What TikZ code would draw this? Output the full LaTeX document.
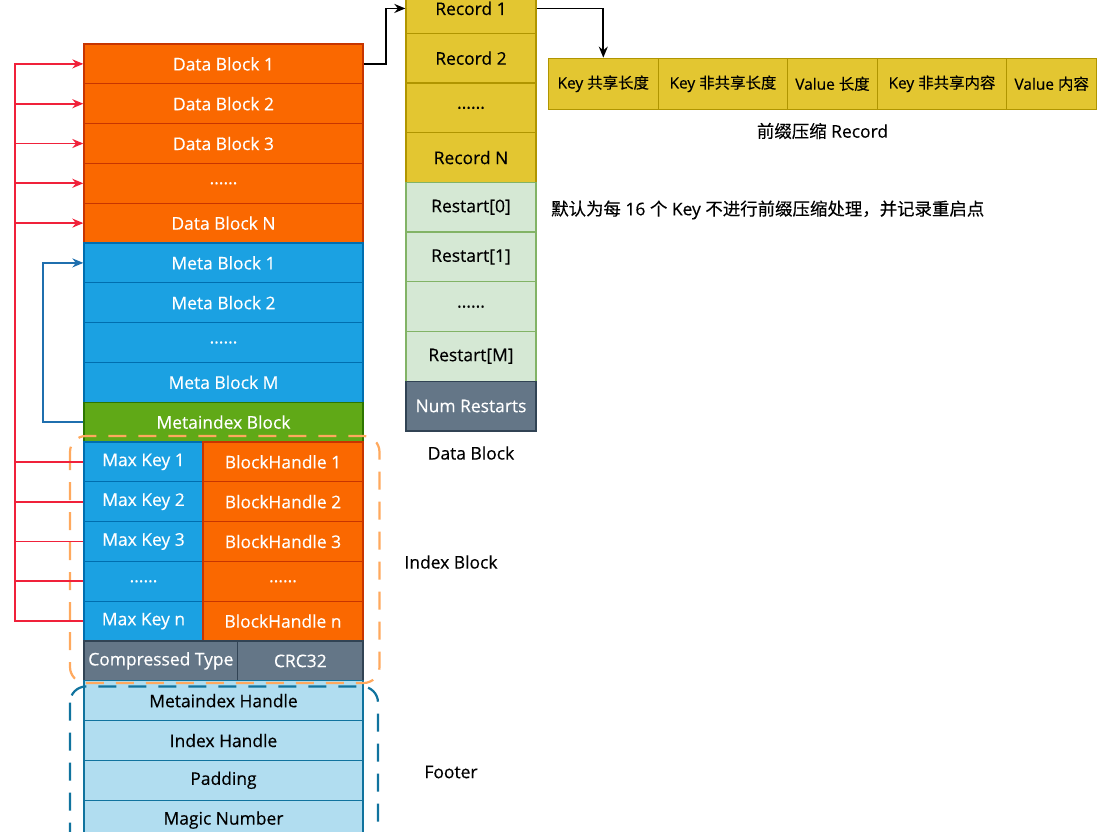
\documentclass[tikz,border=0pt]{standalone}
\usepackage{fontspec}
\setmainfont{Open Sans}[FakeBold=0.35]
\newfontfamily\cjk{Noto Sans CJK SC}[FakeBold=0.25]
\usetikzlibrary{arrows.meta}
\definecolor{ofill}{HTML}{FA6800}
\definecolor{oline}{HTML}{C73500}
\definecolor{bfill}{HTML}{1BA1E2}
\definecolor{bline}{HTML}{006EAF}
\definecolor{gfill}{HTML}{60A917}
\definecolor{gline}{HTML}{2D7600}
\definecolor{sfill}{HTML}{647687}
\definecolor{sline}{HTML}{314354}
\definecolor{yfill}{HTML}{E3C631}
\definecolor{yline}{HTML}{B09500}
\definecolor{lgfill}{HTML}{D5E8D4}
\definecolor{lgline}{HTML}{82B366}
\definecolor{lbfill}{HTML}{B1DDF0}
\definecolor{lbline}{HTML}{10739E}
\definecolor{dashorange}{HTML}{FFA95E}
\definecolor{arrred}{HTML}{F0213A}
\definecolor{arrblue}{HTML}{1F6FAE}
\tikzset{
  cell/.style={draw, line width=1.3bp, inner sep=0pt, anchor=center, text=white},
  ocell/.style={cell, fill=ofill, draw=oline},
  bcell/.style={cell, fill=bfill, draw=bline},
  gcell/.style={cell, fill=gfill, draw=gline},
  scell/.style={cell, fill=sfill, draw=sline},
  ycell/.style={cell, fill=yfill, draw=yline, text=black},
  lgcell/.style={cell, fill=lgfill, draw=lgline, text=black},
  lbcell/.style={cell, fill=lbfill, draw=lbline, text=black},
  mainrow/.style={minimum width=279bp, minimum height=39.8bp},
  keycol/.style={minimum width=119bp, minimum height=39.8bp},
  handlecol/.style={minimum width=160bp, minimum height=39.8bp},
  dbrow/.style={minimum width=130bp, minimum height=49.7bp},
  rechigh/.style={minimum height=51bp, font=\fontsize{15.5}{19}\selectfont},
  lbl/.style={text=black, inner sep=0pt},
  redarrow/.style={draw=arrred, line width=1.7bp, -{Stealth[length=11bp,width=9bp]}},
  bluearrow/.style={draw=arrblue, line width=1.7bp, -{Stealth[length=11bp,width=9bp]}},
  blackarrow/.style={draw=black, line width=1.7bp, -{Stealth[length=11bp,width=9bp]}},
  groupbox/.style={line width=2.2bp, rounded corners=16bp, dash pattern=on 18bp off 12bp}
}
\begin{document}
\begin{tikzpicture}[x=1bp, y=-1bp, font=\fontsize{17.5}{21}\selectfont]
\useasboundingbox (0,0) rectangle (1101,832);
\clip (0,0) rectangle (1101,832);
\fill[white] (0,0) rectangle (1101,832);

% main column
\node[ocell, mainrow] (db1) at (223.5,63.9) {Data Block 1};
\node[ocell, mainrow] (db2) at (223.5,103.7) {Data Block 2};
\node[ocell, mainrow] (db3) at (223.5,143.5) {Data Block 3};
\node[ocell, mainrow] (db4) at (223.5,183.3) {......};
\node[ocell, mainrow] (db5) at (223.5,223.1) {Data Block N};
\node[bcell, mainrow] (mb1) at (223.5,262.9) {Meta Block 1};
\node[bcell, mainrow] (mb2) at (223.5,302.7) {Meta Block 2};
\node[bcell, mainrow] (mb3) at (223.5,342.5) {......};
\node[bcell, mainrow] (mb4) at (223.5,382.3) {Meta Block M};
\node[gcell, mainrow] (mib) at (223.5,422.1) {Metaindex Block};

\node[bcell, keycol] (mk1) at (143.5,461.9) {Max Key 1};
\node[bcell, keycol] (mk2) at (143.5,501.7) {Max Key 2};
\node[bcell, keycol] (mk3) at (143.5,541.5) {Max Key 3};
\node[bcell, keycol] (mk4) at (143.5,581.3) {......};
\node[bcell, keycol] (mk5) at (143.5,621.1) {Max Key n};
\node[ocell, handlecol] (bh1) at (283,461.9) {BlockHandle 1};
\node[ocell, handlecol] (bh2) at (283,501.7) {BlockHandle 2};
\node[ocell, handlecol] (bh3) at (283,541.5) {BlockHandle 3};
\node[ocell, handlecol] (bh4) at (283,581.3) {......};
\node[ocell, handlecol] (bh5) at (283,621.1) {BlockHandle n};
\node[scell, minimum width=153.7bp, minimum height=39.8bp] (ctype) at (160.85,660.9) {Compressed Type};
\node[scell, minimum width=125.3bp, minimum height=39.8bp] (crc) at (300.35,660.9) {CRC32};

\node[lbcell, mainrow] (mih) at (223.5,700.7) {Metaindex Handle};
\node[lbcell, mainrow] (ih) at (223.5,740.5) {Index Handle};
\node[lbcell, mainrow] (pad) at (223.5,780.3) {Padding};
\node[lbcell, mainrow] (magic) at (223.5,820.1) {Magic Number};

% group boxes
\draw[groupbox, draw=dashorange] (70,436) rectangle (379.5,683);
\draw[groupbox, draw=lbline] (70,686.5) rectangle (378,870);

% data block detail column
\node[ycell, dbrow] (rec1) at (471,8.45) {Record 1};
\node[ycell, dbrow] (rec2) at (471,58.15) {Record 2};
\node[ycell, dbrow] (rec3) at (471,107.85) {......};
\node[ycell, dbrow] (rec4) at (471,157.55) {Record N};
\node[lgcell, dbrow] (rs0) at (471,207.25) {Restart[0]};
\node[lgcell, dbrow] (rs1) at (471,256.95) {Restart[1]};
\node[lgcell, dbrow] (rs2) at (471,306.65) {......};
\node[lgcell, dbrow] (rs3) at (471,356.35) {Restart[M]};
\node[scell, dbrow] (nrs) at (471,406.05) {Num Restarts};

% record row
\node[ycell, rechigh, minimum width=110bp] (k1) at (603.3,83.8) {Key \cjk 共享长度};
\node[ycell, rechigh, minimum width=129.4bp] (k2) at (723,83.8) {Key \cjk 非共享长度};
\node[ycell, rechigh, minimum width=89.6bp] (k3) at (832.5,83.8) {Value \cjk 长度};
\node[ycell, rechigh, minimum width=129.4bp] (k4) at (942,83.8) {Key \cjk 非共享内容};
\node[ycell, rechigh, minimum width=90bp] (k5) at (1051.7,83.8) {Value \cjk 内容};

% labels
\node[lbl] (lbldb) at (471,453) {Data Block};
\node[lbl] (lblidx) at (451,562) {Index Block};
\node[lbl] (lblft) at (451,772) {Footer};
\node[lbl] (lblrec) at (822.5,131) {{\cjk 前缀压缩} Record};
\node[lbl, anchor=west] (lblrs) at (551,210) {{\cjk 默认为每} 16 {\cjk 个} Key {\cjk 不进行前缀压缩处理，并记录重启点}};

% connectors
\draw[redarrow] (mk1.west) -- ([xshift=-68bp]mk1.west) |- (db1.west);
\draw[redarrow] (mk2.west) -- ([xshift=-68bp]mk2.west) |- (db2.west);
\draw[redarrow] (mk3.west) -- ([xshift=-68bp]mk3.west) |- (db3.west);
\draw[redarrow] (mk4.west) -- ([xshift=-68bp]mk4.west) |- (db4.west);
\draw[redarrow] (mk5.west) -- ([xshift=-68bp]mk5.west) |- (db5.west);
\draw[bluearrow] (mib.west) -- ([xshift=-40bp]mib.west) |- (mb1.west);
\draw[blackarrow] (db1.east) -- ([xshift=22bp]db1.east) |- (rec1.west);
\draw[blackarrow] (rec1.east) -| (k1.north);
\end{tikzpicture}
\end{document}
